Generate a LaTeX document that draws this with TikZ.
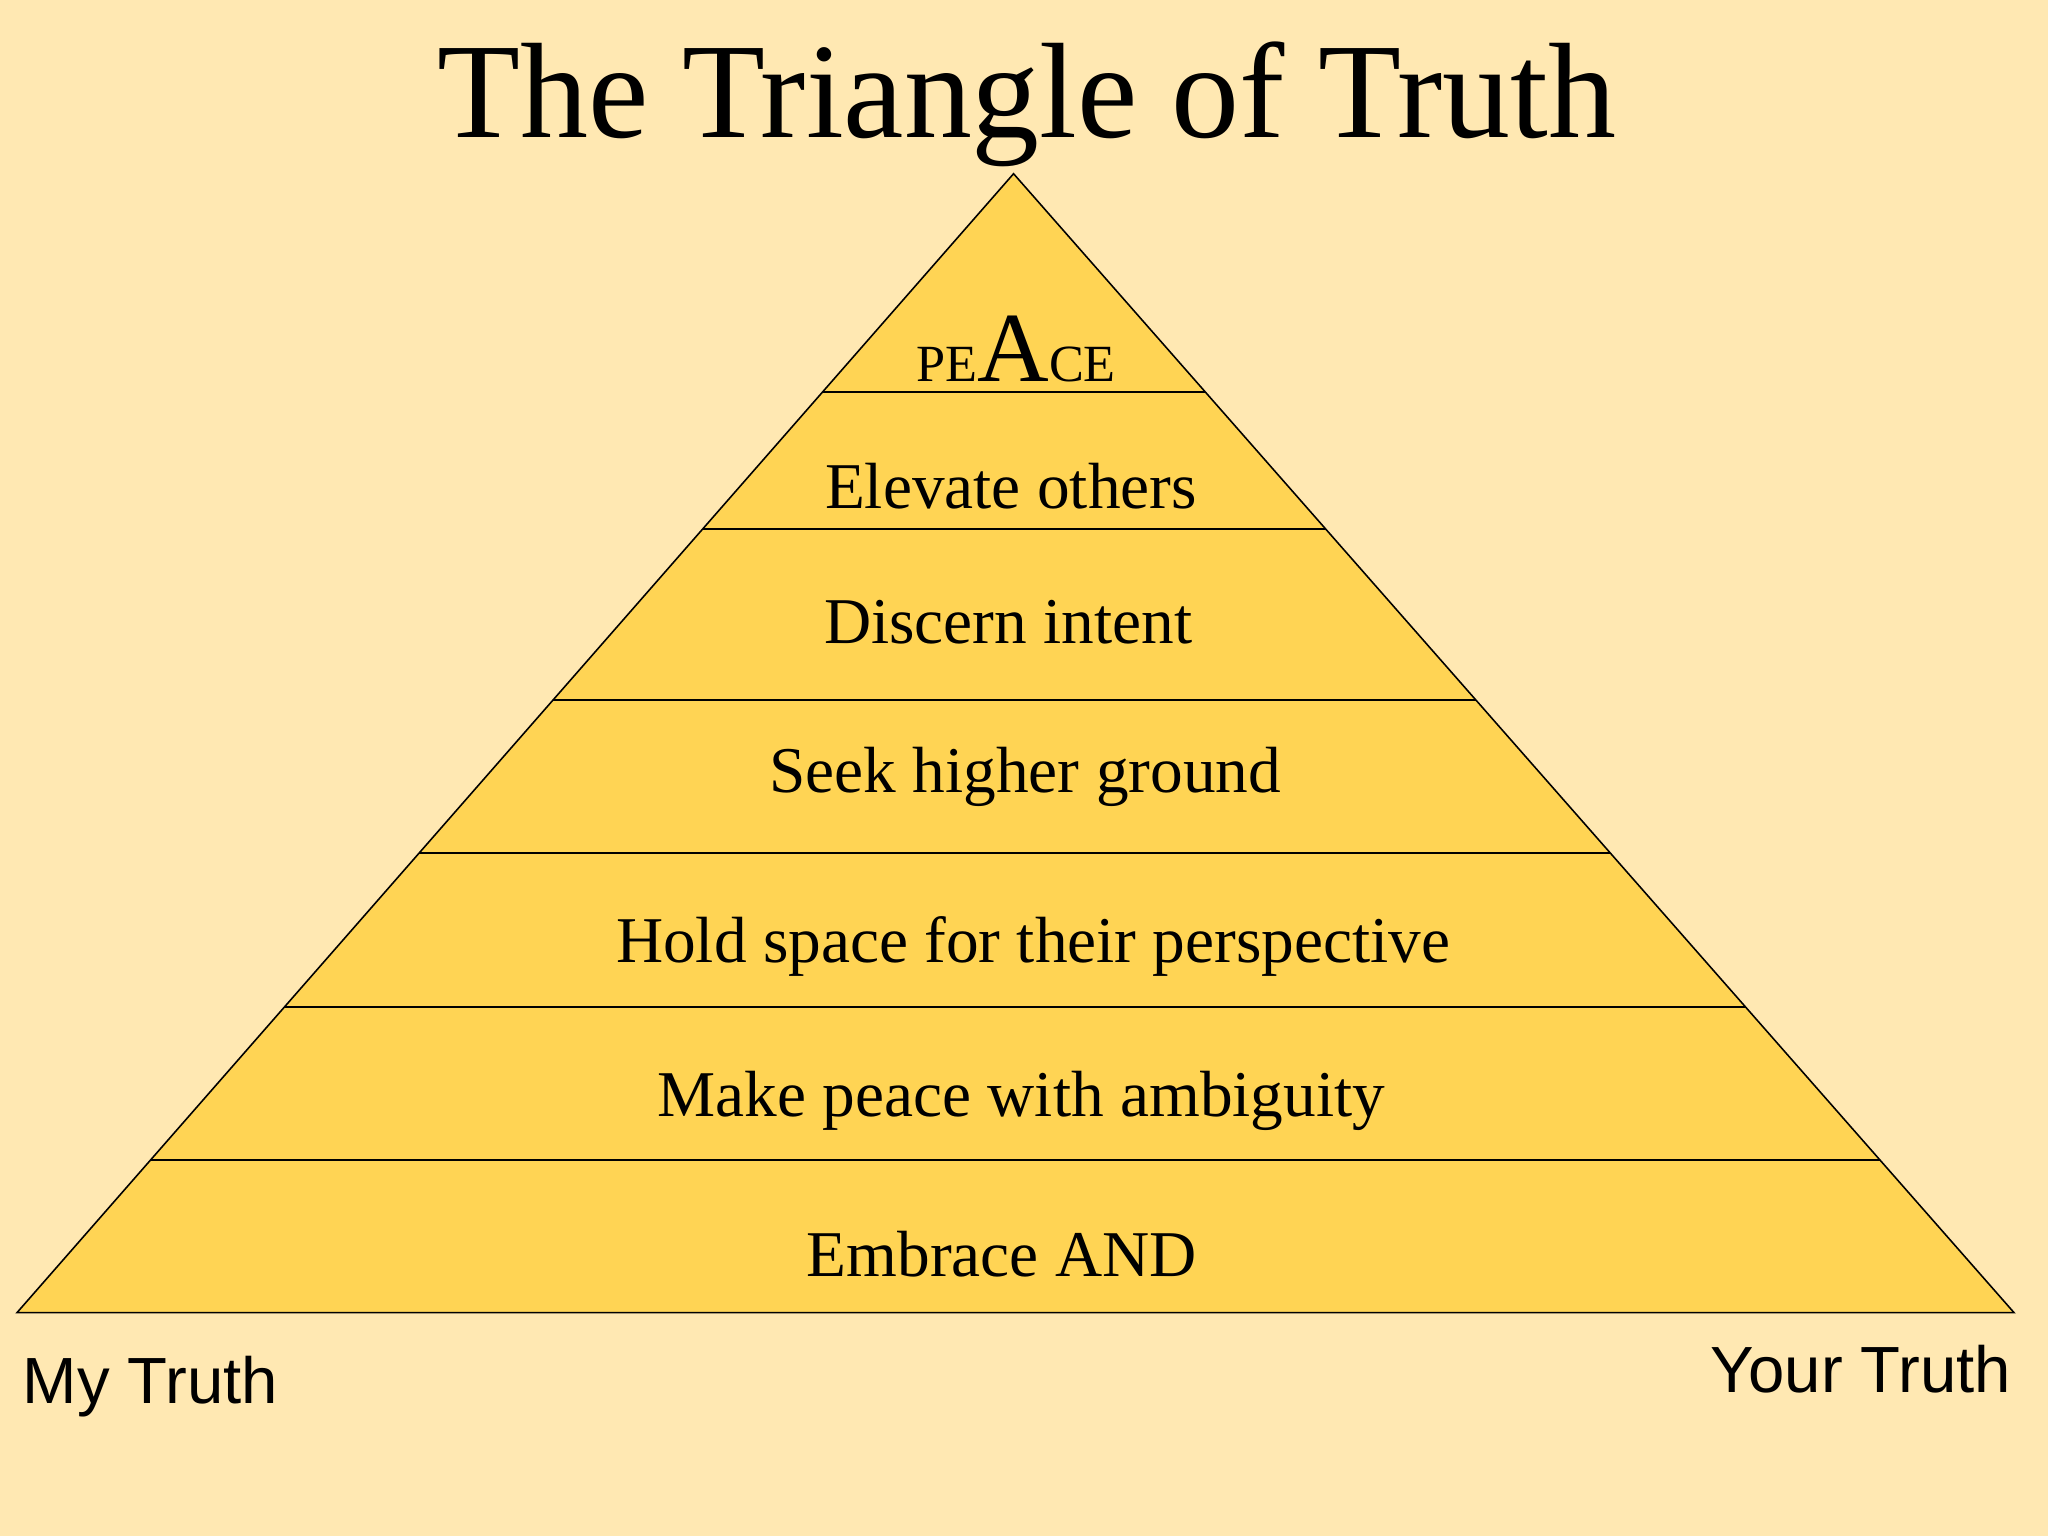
\documentclass[tikz,border=0pt]{standalone}
\usepackage{fontspec}
\setmainfont{Liberation Serif}
\newfontfamily\sansf{Liberation Sans}
\definecolor{bg}{HTML}{FFE8B2}
\definecolor{tri}{HTML}{FFD454}
\tikzset{layer/.style={font=\fontsize{25}{30}\selectfont, inner sep=0pt},
 side/.style={font=\sansf\fontsize{25}{30}\selectfont, inner sep=0pt}}
\begin{document}
\begin{tikzpicture}[x=0.5pt,y=-0.5pt]
\fill[bg] (0,0) rectangle (1568,1176);
\useasboundingbox (0,0) rectangle (1568,1176);
\coordinate (apex) at (776,133);
\coordinate (bl) at (13,1005);
\coordinate (br) at (1542,1005);
\filldraw[fill=tri,draw=black,line width=0.6pt] (apex) -- (bl) -- (br) -- cycle;
\begin{scope}
\clip (apex) -- (bl) -- (br) -- cycle;
\foreach \yy in {300,405,536,653,771,888}
  \draw[line width=0.6pt] (0,\yy) -- (1568,\yy);
\end{scope}
\node[font=\fontsize{52}{60}\selectfont, inner sep=0pt] (title) at (786,80) {The Triangle of Truth};
\node[layer, anchor=base] (l0) at (778,292) {\fontsize{20}{24}\selectfont PE\fontsize{38}{40}\selectfont A\fontsize{20}{24}\selectfont CE};
\node[layer] (l1) at (774,372) {Elevate others};
\node[layer] (l2) at (772,476) {Discern intent};
\node[layer] (l3) at (785,595) {Seek higher ground};
\node[layer] (l4) at (791,725) {Hold space for their perspective};
\node[layer] (l5) at (782,843) {Make peace with ambiguity};
\node[layer] (l6) at (767,960) {Embrace AND};
\node[side, anchor=west] (my) at (17,1062) {My Truth};
\node[side, anchor=east] (your) at (1540,1048) {Your Truth};
\end{tikzpicture}
\end{document}
